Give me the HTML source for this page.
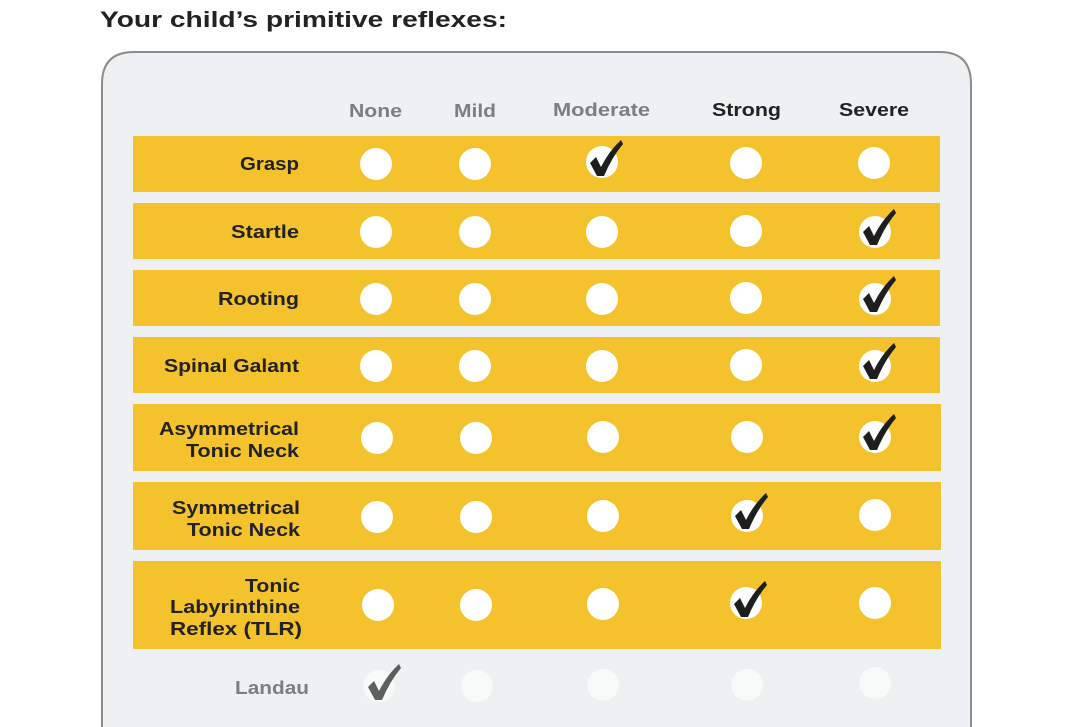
<!DOCTYPE html>
<html><head><meta charset="utf-8"><style>
html,body{margin:0;padding:0;background:#fff;}
svg{display:block;}
text{font-family:"Liberation Sans",sans-serif;font-weight:bold;}
</style></head><body>
<svg width="1090" height="727" viewBox="0 0 1090 727" xmlns="http://www.w3.org/2000/svg">
<defs>
<g id="ck"><path d="M-14,3 L-8,-3 L-3,7 Q5,-9 17,-20 L19,-16 Q8,-3 0,16 L-7,16 Z" fill="#1e1e1e"/></g>
</defs>
<rect width="1090" height="727" fill="#fff"/>
<text x="100" y="27" font-size="22" textLength="407" lengthAdjust="spacingAndGlyphs" fill="#222">Your child’s primitive reflexes:</text>
<path d="M102,760 L102,84 Q102,52 134,52 L940,52 Q971,52 971,84 L971,760" fill="#eef0f1" stroke="#8a8c8e" stroke-width="2"/>
<g font-size="18" lengthAdjust="spacingAndGlyphs">
<text x="349" y="117" textLength="53" lengthAdjust="spacingAndGlyphs" fill="#7b7e82">None</text>
<text x="454" y="117" textLength="42" lengthAdjust="spacingAndGlyphs" fill="#7b7e82">Mild</text>
<text x="553" y="116" textLength="97" lengthAdjust="spacingAndGlyphs" fill="#7b7e82">Moderate</text>
<text x="712" y="116" textLength="69" lengthAdjust="spacingAndGlyphs" fill="#222">Strong</text>
<text x="839" y="116" textLength="70" lengthAdjust="spacingAndGlyphs" fill="#222">Severe</text>
</g>
<g fill="#f3c22c">
<rect x="133" y="136" width="807" height="56"/>
<rect x="133" y="203" width="807" height="56"/>
<rect x="133" y="270" width="807" height="56"/>
<rect x="133" y="337" width="807" height="56"/>
<rect x="133" y="404" width="808" height="67"/>
<rect x="133" y="482" width="808" height="68"/>
<rect x="133" y="561" width="808" height="88"/>
</g>
<g font-size="18" fill="#222">
<text x="240" y="170" textLength="59" lengthAdjust="spacingAndGlyphs">Grasp</text>
<text x="231" y="238" textLength="68" lengthAdjust="spacingAndGlyphs">Startle</text>
<text x="218" y="305" textLength="81" lengthAdjust="spacingAndGlyphs">Rooting</text>
<text x="164" y="372" textLength="135" lengthAdjust="spacingAndGlyphs">Spinal Galant</text>
<text x="159" y="435" textLength="140" lengthAdjust="spacingAndGlyphs">Asymmetrical</text>
<text x="186" y="457" textLength="113" lengthAdjust="spacingAndGlyphs">Tonic Neck</text>
<text x="172" y="514" textLength="128" lengthAdjust="spacingAndGlyphs">Symmetrical</text>
<text x="187" y="536" textLength="113" lengthAdjust="spacingAndGlyphs">Tonic Neck</text>
<text x="245" y="592" textLength="55" lengthAdjust="spacingAndGlyphs">Tonic</text>
<text x="170" y="613" textLength="130" lengthAdjust="spacingAndGlyphs">Labyrinthine</text>
<text x="170" y="635" textLength="132" lengthAdjust="spacingAndGlyphs">Reflex (TLR)</text>
<text x="235" y="694" textLength="74" lengthAdjust="spacingAndGlyphs" fill="#7b7e82">Landau</text>
</g>
<g fill="#fff">
<circle cx="376" cy="164" r="16"/><circle cx="475" cy="164" r="16"/><circle cx="602" cy="162" r="16"/><circle cx="746" cy="163" r="16"/><circle cx="874" cy="163" r="16"/>
<circle cx="376" cy="232" r="16"/><circle cx="475" cy="232" r="16"/><circle cx="602" cy="232" r="16"/><circle cx="746" cy="231" r="16"/><circle cx="875" cy="232" r="16"/>
<circle cx="376" cy="299" r="16"/><circle cx="475" cy="299" r="16"/><circle cx="602" cy="299" r="16"/><circle cx="746" cy="298" r="16"/><circle cx="875" cy="299" r="16"/>
<circle cx="376" cy="366" r="16"/><circle cx="475" cy="366" r="16"/><circle cx="602" cy="366" r="16"/><circle cx="746" cy="365" r="16"/><circle cx="875" cy="366" r="16"/>
<circle cx="377" cy="438" r="16"/><circle cx="476" cy="438" r="16"/><circle cx="603" cy="437" r="16"/><circle cx="747" cy="437" r="16"/><circle cx="875" cy="437" r="16"/>
<circle cx="377" cy="517" r="16"/><circle cx="476" cy="517" r="16"/><circle cx="603" cy="516" r="16"/><circle cx="747" cy="516" r="16"/><circle cx="875" cy="515" r="16"/>
<circle cx="378" cy="605" r="16"/><circle cx="476" cy="605" r="16"/><circle cx="603" cy="604" r="16"/><circle cx="746" cy="603" r="16"/><circle cx="875" cy="603" r="16"/>
</g>
<g fill="#f8f9f9">
<circle cx="379" cy="686" r="16"/><circle cx="477" cy="686" r="16"/><circle cx="603" cy="685" r="16"/><circle cx="747" cy="685" r="16"/><circle cx="875" cy="683" r="16"/>
</g>
<use href="#ck" x="604" y="160"/>
<use href="#ck" x="877" y="229"/>
<use href="#ck" x="877" y="296"/>
<use href="#ck" x="877" y="363"/>
<use href="#ck" x="877" y="434"/>
<use href="#ck" x="749" y="513"/>
<use href="#ck" x="748" y="601"/>
<g opacity="0.7"><use href="#ck" x="382" y="684"/></g>
</svg>
</body></html>
